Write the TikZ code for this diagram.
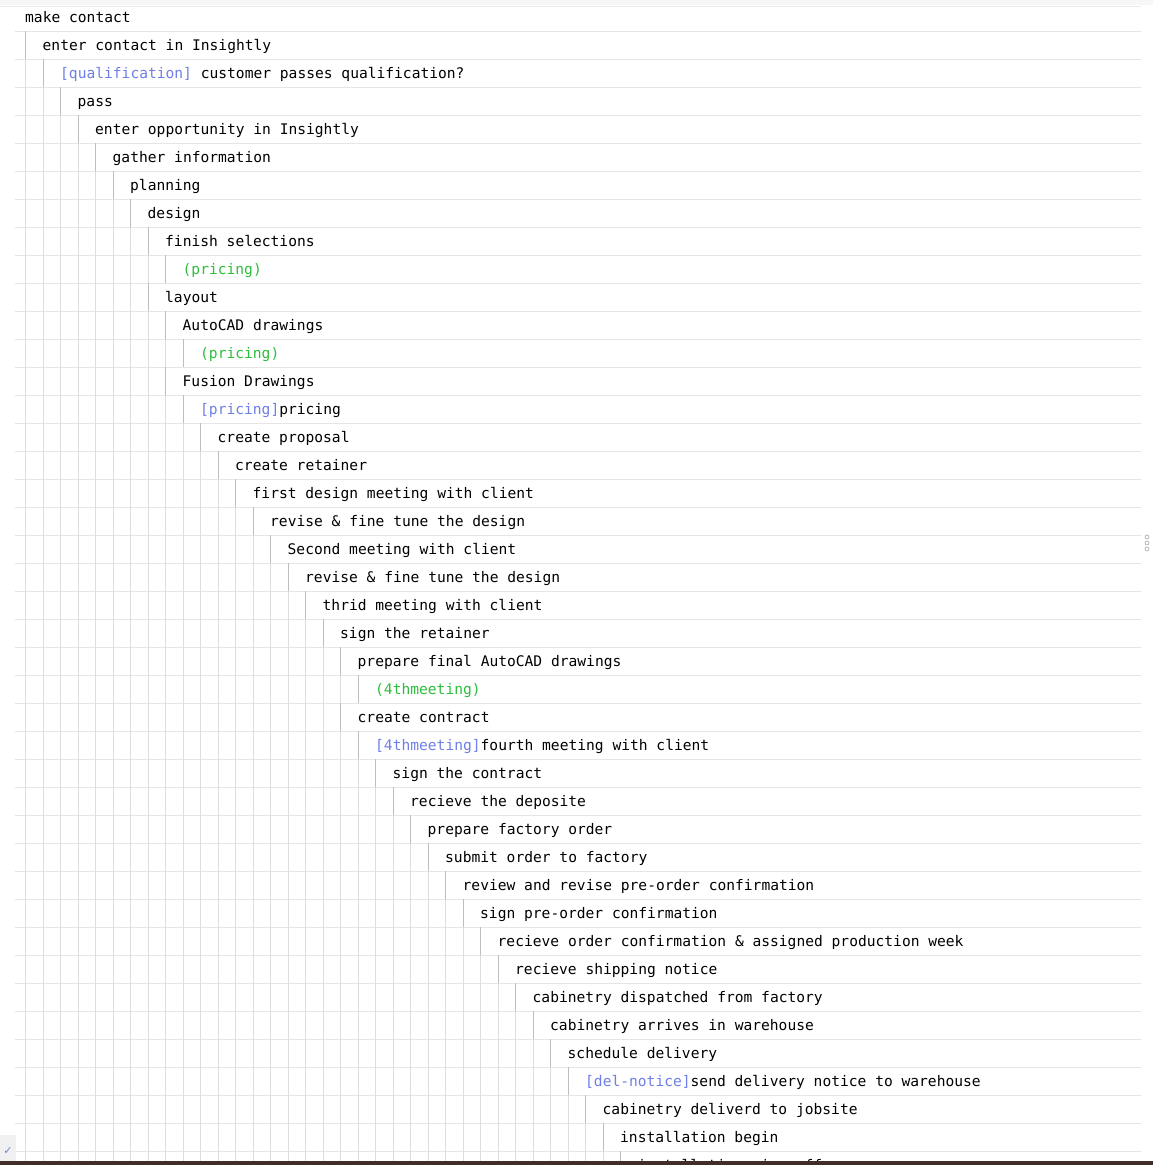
\documentclass[tikz,border=0pt]{standalone}
\usepackage{fontspec}
\setmonofont{DejaVu Sans Mono}
\definecolor{bluetag}{HTML}{6F7FE8}
\definecolor{greentag}{HTML}{2DBE3C}
\definecolor{sep}{HTML}{E6E6E6}
\definecolor{guide}{HTML}{DDDDDD}
\definecolor{guideact}{HTML}{BDBDBD}
\definecolor{barc}{HTML}{3E2F27}
\newcommand{\bl}[1]{\textcolor{bluetag}{#1}}
\newcommand{\gr}[1]{\textcolor{greentag}{#1}}
\tikzset{rowtext/.style={anchor=west,inner sep=0pt,font=\ttfamily\fontsize{14.6}{16}\selectfont,text=black}}
\begin{document}
\begin{tikzpicture}[x=1pt,y=-1pt]
\useasboundingbox (0,0) rectangle (1153,1165);
\fill[white] (0,0) rectangle (1153,1165);
\fill[black!3] (0,0) rectangle (1153,5);
\draw[black!8] (0,6) -- (1141,6);
\begin{scope}
\clip (0,0) rectangle (1153,1161);
\foreach \lv/\r/\t in {
0/0/{make contact},
1/1/{enter contact in Insightly},
2/2/{\bl{[qualification]} customer passes qualification?},
3/3/{pass},
4/4/{enter opportunity in Insightly},
5/5/{gather information},
6/6/{planning},
7/7/{design},
8/8/{finish selections},
9/9/{\gr{(pricing)}},
8/10/{layout},
9/11/{AutoCAD drawings},
10/12/{\gr{(pricing)}},
9/13/{Fusion Drawings},
10/14/{\bl{[pricing]}pricing},
11/15/{create proposal},
12/16/{create retainer},
13/17/{first design meeting with client},
14/18/{revise \& fine tune the design},
15/19/{Second meeting with client},
16/20/{revise \& fine tune the design},
17/21/{thrid meeting with client},
18/22/{sign the retainer},
19/23/{prepare final AutoCAD drawings},
20/24/{\gr{(4thmeeting)}},
19/25/{create contract},
20/26/{\bl{[4thmeeting]}fourth meeting with client},
21/27/{sign the contract},
22/28/{recieve the deposite},
23/29/{prepare factory order},
24/30/{submit order to factory},
25/31/{review and revise pre-order confirmation},
26/32/{sign pre-order confirmation},
27/33/{recieve order confirmation \& assigned production week},
28/34/{recieve shipping notice},
29/35/{cabinetry dispatched from factory},
30/36/{cabinetry arrives in warehouse},
31/37/{schedule delivery},
32/38/{\bl{[del-notice]}send delivery notice to warehouse},
33/39/{cabinetry deliverd to jobsite},
34/40/{installation begin},
35/41/{installation sign off}}{
  \pgfmathsetmacro{\yc}{17+28*\r}
  \pgfmathsetmacro{\xt}{25+17.5*\lv}
  \pgfmathsetmacro{\yt}{\yc-14}
  \pgfmathsetmacro{\yb}{\yc+14}
  \draw[sep,line width=1pt] (15,\yb) -- (1141,\yb);
  \ifnum\lv>0
    \pgfmathtruncatemacro{\lm}{\lv-1}
    \foreach \j in {0,...,\lm}{
      \pgfmathsetmacro{\xj}{25.5+17.5*\j}
      \ifnum\j=\lm
        \draw[guideact,line width=0.9pt] (\xj,\yt) -- (\xj,\yb);
      \else
        \draw[guide,line width=0.9pt] (\xj,\yt) -- (\xj,\yb);
      \fi
    }
  \fi
  \node[rowtext] (n\r) at (\xt,\yc+2) {\strut\t};
}
\end{scope}
\fill[barc] (0,1161) rectangle (1153,1165);
\fill[black!6] (0,1135) rectangle (16,1161);
\node[font=\fontspec{DejaVu Sans}\fontsize{11}{11}\selectfont,text=bluetag,inner sep=0pt] (chk) at (8,1151) {✓};
\foreach \k in {0,1,2}{
  \draw[black!35,line width=0.6pt] (1147,537+6*\k) circle (2);
}
\end{tikzpicture}
\end{document}
